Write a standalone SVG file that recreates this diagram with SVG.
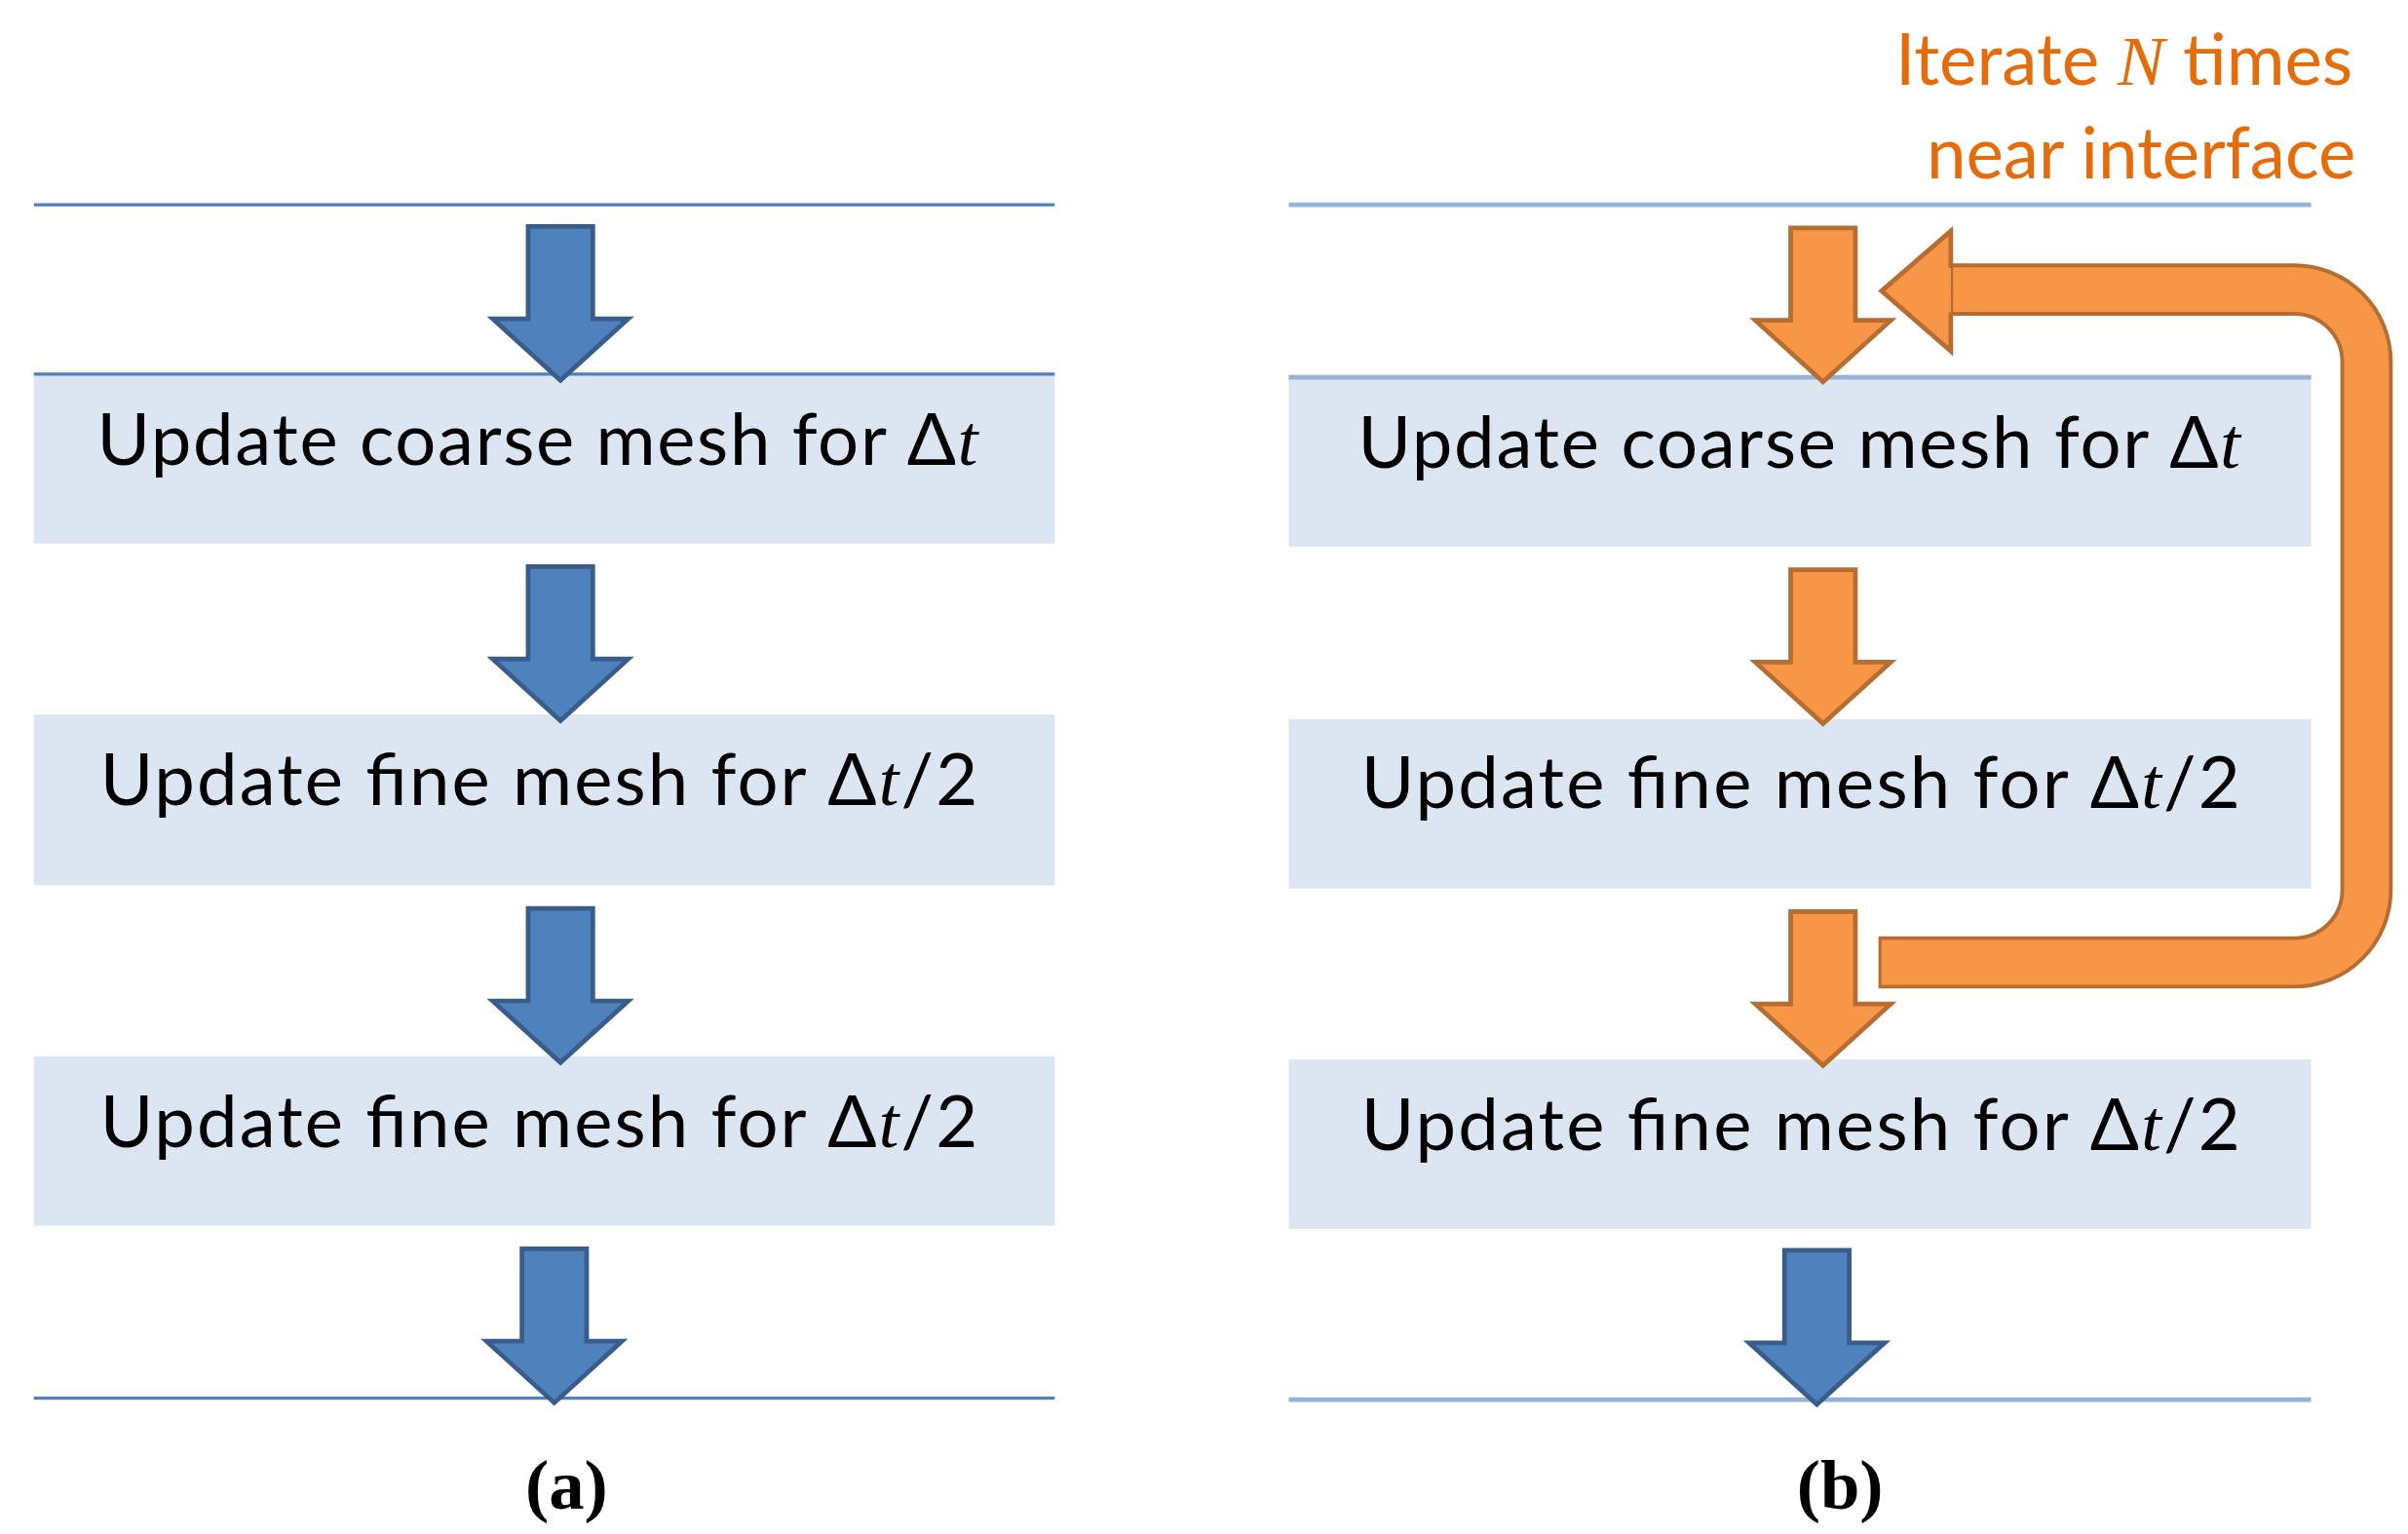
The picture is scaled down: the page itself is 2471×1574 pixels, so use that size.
<svg xmlns="http://www.w3.org/2000/svg" width="2471" height="1574" viewBox="0 0 2471 1574">
<defs>
<style>
.box{fill:#DCE6F2}
.t{font-family:Lato,"Open Sans",sans-serif;font-size:47px;fill:#000}
.m{font-family:"Liberation Serif",serif;font-style:italic}
.blue{fill:#4F81BD;stroke:#385D8A;stroke-width:3}
.or{fill:#F79646;stroke:#B66D31;stroke-width:3}
.cap{font-family:"Liberation Serif",serif;font-size:46px;font-weight:bold;text-anchor:middle}
</style>
<path id="arr" d="M-21,0 H21 V60 H44 L0,100 L-44,60 H-21 Z"/>
</defs>
<rect width="2471" height="1574" fill="#fff"/>
<g transform="scale(1.58)">
<g id="panel-a">
<line x1="22" y1="133" x2="685" y2="133" stroke="#4F81BD" stroke-width="2"/>
<line x1="22" y1="908" x2="685" y2="908" stroke="#4F81BD" stroke-width="2"/>
<g id="a1"><rect class="box" x="22" y="243" width="663" height="110"/><line x1="22" y1="243" x2="685" y2="243" stroke="#4F81BD" stroke-width="2"/><text class="t" x="63" y="302" textLength="572">Update coarse mesh for Δ<tspan class="m">t</tspan></text></g>
<g id="a2"><rect class="box" x="22" y="464" width="663" height="111"/><text class="t" x="65" y="523" textLength="570">Update fine mesh for Δ<tspan class="m">t</tspan>/2</text></g>
<g id="a3"><rect class="box" x="22" y="686" width="663" height="110"/><text class="t" x="65" y="745" textLength="570">Update fine mesh for Δ<tspan class="m">t</tspan>/2</text></g>
</g>
<g id="panel-b">
<line x1="837" y1="133" x2="1501" y2="133" stroke="#95B3D7" stroke-width="3"/>
<line x1="837" y1="909" x2="1501" y2="909" stroke="#95B3D7" stroke-width="3"/>
<g id="b1"><rect class="box" x="837" y="245" width="664" height="110"/><line x1="837" y1="245" x2="1501" y2="245" stroke="#95B3D7" stroke-width="3"/><text class="t" x="882" y="304" textLength="573">Update coarse mesh for Δ<tspan class="m">t</tspan></text></g>
<g id="b2"><rect class="box" x="837" y="467" width="664" height="110"/><text class="t" x="884" y="525" textLength="571">Update fine mesh for Δ<tspan class="m">t</tspan>/2</text></g>
<g id="b3"><rect class="box" x="837" y="688" width="664" height="110"/><text class="t" x="884" y="747" textLength="571">Update fine mesh for Δ<tspan class="m">t</tspan>/2</text></g>
<g id="label"><text x="1528" y="55" text-anchor="end" style="font-family:Lato,'Open Sans',sans-serif;font-size:46px;fill:#E46C0A">Iterate <tspan class="m">N</tspan> times</text>
<text x="1530" y="116" text-anchor="end" style="font-family:Lato,'Open Sans',sans-serif;font-size:46px;fill:#E46C0A">near interface</text></g>
</g>
<g id="connectors">
<use href="#arr" class="blue" transform="translate(364,147)"/>
<use href="#arr" class="blue" transform="translate(364,368)"/>
<use href="#arr" class="blue" transform="translate(364,590)"/>
<use href="#arr" class="blue" transform="translate(360,811)"/>
<use href="#arr" class="or" transform="translate(1184,148)"/>
<use href="#arr" class="or" transform="translate(1184,370)"/>
<use href="#arr" class="or" transform="translate(1184,592)"/>
<use href="#arr" class="blue" transform="translate(1180,812)"/>
<path d="M1220,625 H1490 A47,47 0 0 0 1537,578 V235 A47,47 0 0 0 1490,188 H1264" fill="none" stroke="#B66D31" stroke-width="34"/>
<path d="M1222,625 H1490 A47,47 0 0 0 1537,578 V235 A47,47 0 0 0 1490,188 H1262" fill="none" stroke="#F79646" stroke-width="29"/>
<polygon points="1267,150 1267,228 1222,189" class="or"/>
<line x1="1265" y1="174" x2="1265" y2="203" stroke="#F79646" stroke-width="4"/>
</g>
<text class="cap" x="368" y="980">(a)</text>
<text class="cap" x="1195" y="980">(b)</text>
</g>
</svg>
